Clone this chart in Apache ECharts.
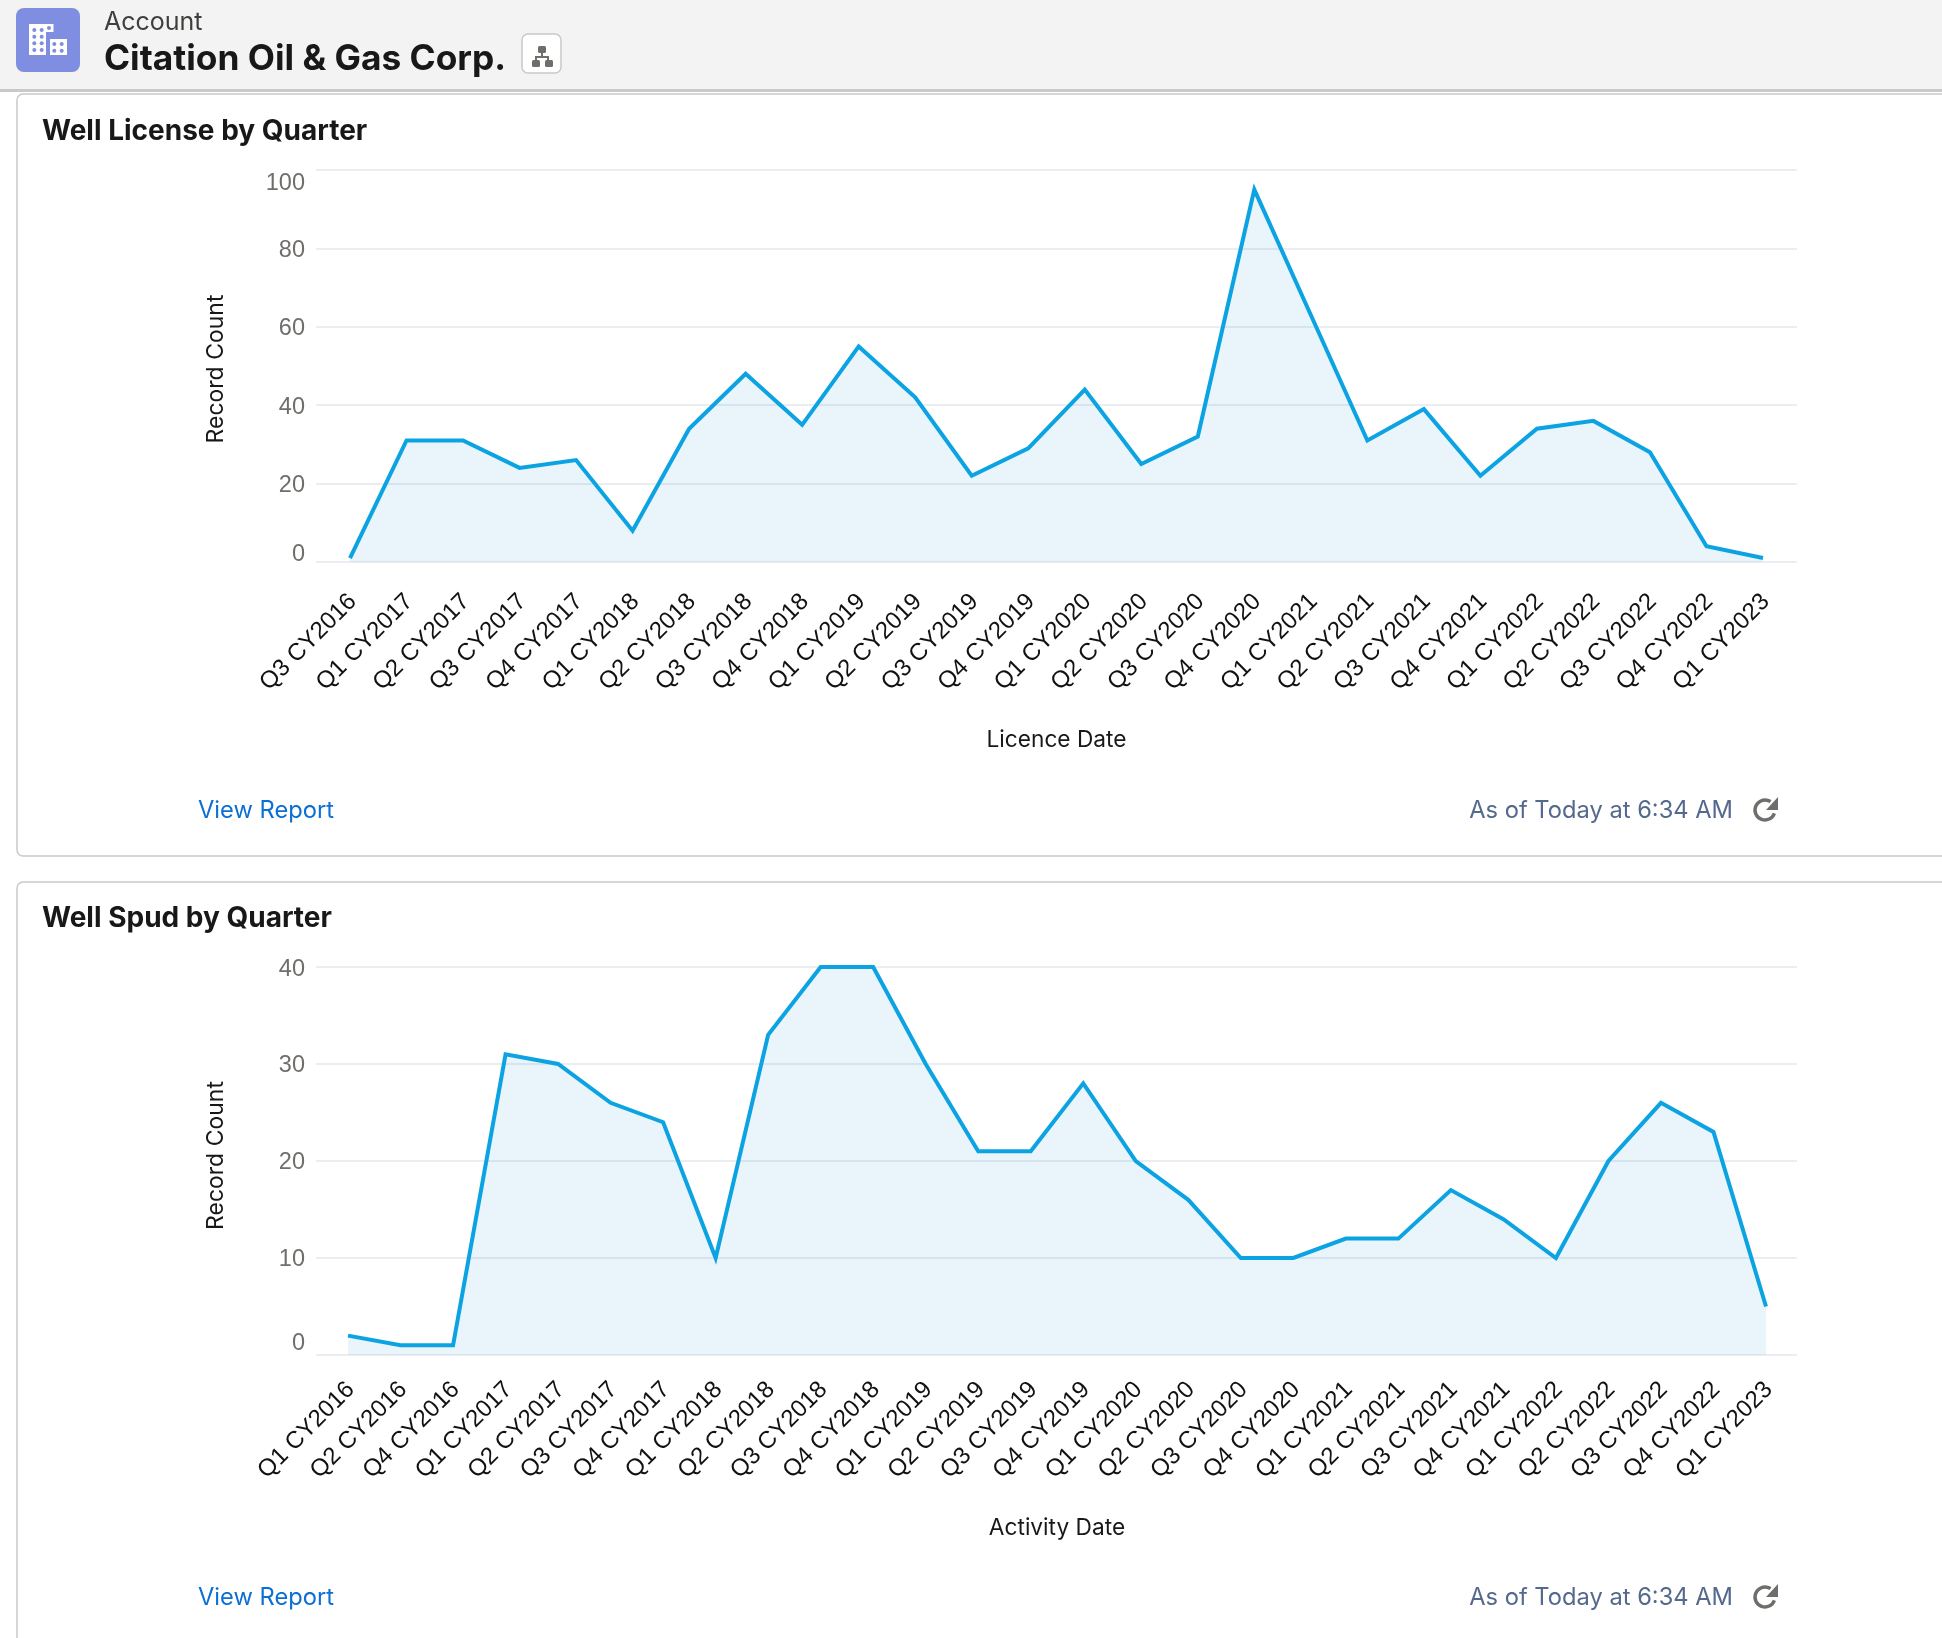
<!DOCTYPE html>
<html>
<head>
<meta charset="utf-8">
<style>html,body{margin:0;padding:0;background:#fff}#chart{width:1942px;height:1638px}</style>
<script src="https://cdn.jsdelivr.net/npm/echarts@6/dist/echarts.min.js"></script>
</head>
<body>
<div id="chart"></div>
<script>
var licenseQuarters = ['Q3 CY2016','Q1 CY2017','Q2 CY2017','Q3 CY2017','Q4 CY2017','Q1 CY2018','Q2 CY2018','Q3 CY2018','Q4 CY2018','Q1 CY2019','Q2 CY2019','Q3 CY2019','Q4 CY2019','Q1 CY2020','Q2 CY2020','Q3 CY2020','Q4 CY2020','Q1 CY2021','Q2 CY2021','Q3 CY2021','Q4 CY2021','Q1 CY2022','Q2 CY2022','Q3 CY2022','Q4 CY2022','Q1 CY2023'];
var licenseCounts = [1,31,31,24,26,8,34,48,35,55,42,22,29,44,25,32,95,63,31,39,22,34,36,28,4,1];
var spudQuarters = ['Q1 CY2016','Q2 CY2016','Q4 CY2016','Q1 CY2017','Q2 CY2017','Q3 CY2017','Q4 CY2017','Q1 CY2018','Q2 CY2018','Q3 CY2018','Q4 CY2018','Q1 CY2019','Q2 CY2019','Q3 CY2019','Q4 CY2019','Q1 CY2020','Q2 CY2020','Q3 CY2020','Q4 CY2020','Q1 CY2021','Q2 CY2021','Q3 CY2021','Q4 CY2021','Q1 CY2022','Q2 CY2022','Q3 CY2022','Q4 CY2022','Q1 CY2023'];
var spudCounts = [2,1,1,31,30,26,24,10,33,40,40,30,21,21,28,20,16,10,10,12,12,17,14,10,20,26,23,5];

var uiFont = 'Inter';
var tickFont = 'Liberation Sans';
var lineColor = '#0ca3e2';
var grayText = '#706e6b';
var borderGray = '#c9c9c9';
var iconBlue = '#7f8ee1';

var grids = [], xAxes = [], yAxes = [], series = [], titles = [];

function tickRich(padding) {
  return {color: grayText, fontFamily: tickFont, fontSize: 23.5, padding: padding};
}

// each panel has a back grid (wide gridlines, y labels) and a data grid (inset so the points sit right)
function addPanel(p) {
  var back = grids.length;
  var front = back + 1;
  grids.push({left: 316, width: 1481, top: p.top, height: p.bottom - p.top});
  grids.push({left: p.left, width: p.right - p.left, top: p.top, height: p.bottom - p.top});
  xAxes.push({gridIndex: back, type: 'value', min: 0, max: 1, show: false});
  yAxes.push({
    gridIndex: back, type: 'value', min: 0, max: p.max, interval: p.interval,
    name: 'Record Count', nameLocation: 'middle', nameGap: 88.5,
    nameTextStyle: {color: '#181818', fontFamily: uiFont, fontSize: 23, padding: p.namePadding},
    axisLine: {show: false}, axisTick: {show: false},
    axisLabel: {
      margin: 11,
      // the end labels sit inside the plot height, not centred on their gridline
      formatter: function(v) {
        if (v === 0) return '{low|' + v + '}';
        if (v === p.max) return '{high|' + v + '}';
        return '{mid|' + v + '}';
      },
      rich: {low: tickRich(p.lowPadding), mid: tickRich([4, 0, 0, 0]), high: tickRich(p.highPadding)}
    },
    splitLine: {show: true, lineStyle: {color: '#e3e9ef', width: 1.5}}
  });
  xAxes.push({
    gridIndex: front, type: 'category', data: p.categories, boundaryGap: true,
    name: p.xName, nameLocation: 'middle', nameGap: p.xNameGap,
    nameTextStyle: {color: '#181818', fontFamily: uiFont, fontSize: 22.7},
    axisLine: {show: false}, axisTick: {show: false},
    axisLabel: {
      interval: 0, rotate: 45, margin: p.labelMargin,
      formatter: function(v) { return '{q|' + v + '}'; },
      rich: {q: {color: '#111', fontFamily: tickFont, fontSize: 24, padding: [8, 0, 0, 0]}}
    }
  });
  yAxes.push({gridIndex: front, type: 'value', min: 0, max: p.max, show: false});
  series.push({
    type: 'line', xAxisIndex: front, yAxisIndex: front, data: p.values,
    showSymbol: false, symbol: 'none', smooth: false, silent: true,
    lineStyle: {color: lineColor, width: 4, join: 'miter', cap: 'butt'},
    areaStyle: {color: 'rgb(35,145,215)', opacity: 0.1, origin: 'start'}
  });
  titles.push({text: p.title, left: 37, top: p.titleTop, textStyle: {color: '#181818', fontFamily: uiFont, fontWeight: 700, fontSize: 28}});
}

addPanel({title: 'Well License by Quarter', titleTop: 113, xName: 'Licence Date', xNameGap: 167, categories: licenseQuarters, values: licenseCounts, top: 170, bottom: 562, left: 321.75, right: 1791.25, max: 100, interval: 20, labelMargin: 33, namePadding: [0, 6, 0, 0], lowPadding: [0, 0, 15, 0], highPadding: [27, 0, 0, 0]});
addPanel({title: 'Well Spud by Quarter', titleTop: 900, xName: 'Activity Date', xNameGap: 162, categories: spudQuarters, values: spudCounts, top: 967, bottom: 1355, left: 321.75, right: 1792.25, max: 40, interval: 10, labelMargin: 28, namePadding: [0, 0, 0, 11], lowPadding: [0, 0, 23, 0], highPadding: [6, 0, 0, 0]});

function label(text, x, y, color, size, weight, align) {
  return {type: 'text', x: x, y: y, z: 10, style: {text: text, fill: color, fontFamily: uiFont, fontSize: size, fontWeight: weight || 400, textAlign: align || 'left', textVerticalAlign: 'middle'}};
}
function box(x, y, w, h, fill, r) {
  return {type: 'rect', z: 9, shape: {x: x, y: y, width: w, height: h, r: r || 0}, style: {fill: fill}};
}
function card(y, h) {
  return {type: 'rect', z: -1, shape: {x: 17, y: y, width: 2000, height: h, r: 6}, style: {fill: '#fff', stroke: borderGray, lineWidth: 1.5}};
}
function refreshIcon(x, y) {
  return [
    {type: 'arc', z: 10, shape: {cx: x, cy: y, r: 10, startAngle: 0.35, endAngle: 5.3, clockwise: true}, style: {fill: null, stroke: grayText, lineWidth: 3.4}},
    {type: 'polygon', z: 10, shape: {points: [[x + 13, y - 13], [x + 13, y], [x + 1, y]]}, style: {fill: grayText}}
  ];
}

var graphics = [
  box(0, 0, 1942, 89, '#f3f3f3'),
  box(0, 89, 1942, 3, '#c9c9c9'),
  card(94, 762),
  card(882, 800),
  // account icon
  box(16, 8, 64, 64, iconBlue, 8),
  box(29, 24, 17, 31, '#fff'),
  box(46, 24, 7.5, 8, '#fff'),
  box(50, 39, 17, 16, '#fff'),
  // hierarchy button
  {type: 'rect', z: 9, shape: {x: 522, y: 34, width: 39, height: 39, r: 6}, style: {fill: '#fff', stroke: borderGray, lineWidth: 1.5}},
  box(538, 46, 8, 7, grayText, 1.5),
  box(532, 60, 8, 7, grayText, 1.5),
  box(545, 60, 8, 7, grayText, 1.5),
  box(541, 52, 2, 5, grayText),
  box(535, 56, 14, 2, grayText),
  box(535, 56, 2, 5, grayText),
  box(547, 56, 2, 5, grayText),
  label('Account', 104, 22, '#3e3e3c', 25),
  label('Citation Oil & Gas Corp.', 104, 59, '#181818', 35.3, 700),
  label('View Report', 198, 811, '#0b6fd3', 23.7),
  label('As of Today at 6:34 AM', 1733, 811, '#54698d', 23.7, 400, 'right'),
  label('View Report', 198, 1598, '#0b6fd3', 23.7),
  label('As of Today at 6:34 AM', 1733, 1598, '#54698d', 23.7, 400, 'right')
].concat(refreshIcon(1765, 810), refreshIcon(1765, 1597));

// windows on the building glyph
[[34.3, 30], [41.7, 30], [49, 28], [34.3, 36.7], [41.7, 36.7], [34.3, 43.3], [41.7, 43.3], [34.3, 50], [41.7, 50], [54.3, 44], [61.7, 44], [54.3, 50.7], [61.7, 50.7]].forEach(function(d) {
  graphics.push({type: 'circle', z: 10, shape: {cx: d[0], cy: d[1], r: 2}, style: {fill: iconBlue}});
});

var chart = echarts.init(document.getElementById('chart'), null, {renderer: 'canvas'});
chart.setOption({
  animation: false,
  backgroundColor: '#fff',
  title: titles,
  grid: grids,
  xAxis: xAxes,
  yAxis: yAxes,
  series: series,
  graphic: {elements: graphics}
});
</script>
</body>
</html>
